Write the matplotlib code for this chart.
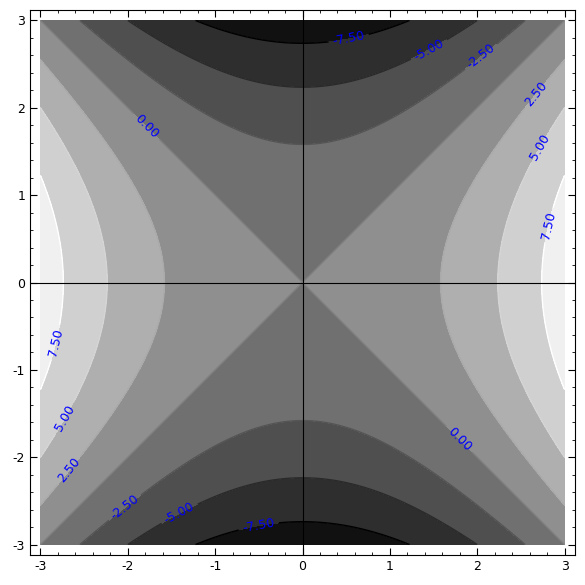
import numpy as np
import matplotlib
matplotlib.use("Agg")
import matplotlib.pyplot as plt
from matplotlib.ticker import MultipleLocator, FuncFormatter

levels = [-7.5, -5.0, -2.5, 0.0, 2.5, 5.0, 7.5]
fill_colors = ["#111111", "#2e2e2e", "#4f4f4f", "#707070",
               "#8f8f8f", "#afafaf", "#d0d0d0", "#f0f0f0"]
label_spots = [(0.53, 2.79), (1.44, 2.68), (2.05, 2.58), (2.68, 2.15),
               (2.72, 1.55), (2.82, 0.65), (-1.78, 1.79), (-2.83, -0.69),
               (-2.72, -1.56), (-2.67, -2.15), (-2.03, -2.58), (-1.40, -2.66),
               (-0.5, -2.79), (1.79, -1.80)]

x = np.linspace(-3, 3, 300)
y = np.linspace(-3, 3, 300)
X, Y = np.meshgrid(x, y)
Z = X**2 - Y**2

fig = plt.figure(figsize=(5.85, 5.85), dpi=100)
ax = fig.add_axes([30/585, 30/585, 545/585, 545/585])

fill_levels = [Z.min()] + levels + [Z.max()]
ax.contourf(X, Y, Z, levels=fill_levels, colors=fill_colors)
cs = ax.contour(X, Y, Z, levels=levels, cmap="gray", vmin=-7.5, vmax=7.5, linewidths=1)
ax.clabel(cs, fmt="%.2f", colors="blue", fontsize=9, inline=True, manual=label_spots)

ax.axhline(0, color="black", lw=0.8)
ax.axvline(0, color="black", lw=0.8)

ax.set_xlim(-3.12, 3.12)
ax.set_ylim(-3.12, 3.12)
fmt = FuncFormatter(lambda v, p: "%d" % round(v))
for axis in (ax.xaxis, ax.yaxis):
    axis.set_major_locator(MultipleLocator(1))
    axis.set_minor_locator(MultipleLocator(0.2))
    axis.set_major_formatter(fmt)
ax.tick_params(which="both", direction="in", top=True, right=True, labelsize=9)
ax.tick_params(which="major", length=5)
ax.tick_params(which="minor", length=2.5)

fig.savefig("out.png", dpi=100)
